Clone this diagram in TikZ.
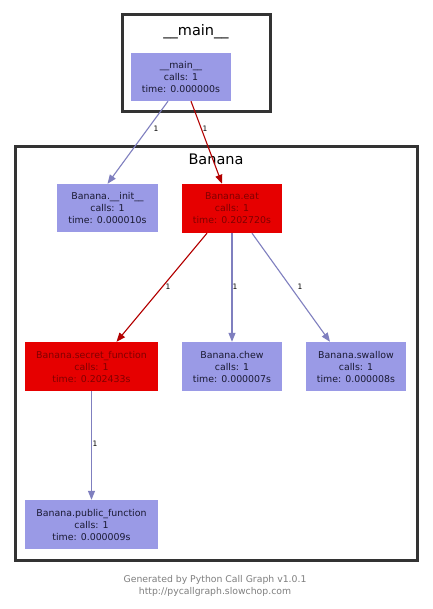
\documentclass[tikz,border=0pt]{standalone}
\usepackage{fontspec}
\setmainfont{DejaVu Sans}
\usetikzlibrary{arrows.meta}
\definecolor{nodeblue}{HTML}{9A9AE6}
\definecolor{nodered}{HTML}{E60000}
\definecolor{txtblue}{HTML}{1A1A33}
\definecolor{txtred}{HTML}{800000}
\definecolor{edgeblue}{HTML}{7F7FBF}
\definecolor{edgered}{HTML}{B30000}
\definecolor{clusterline}{HTML}{333333}
\definecolor{footgray}{HTML}{7F7F7F}
\begin{document}
\begin{tikzpicture}[x=1pt,y=-1pt,
  fn/.style={rectangle, inner sep=0pt, align=center, font=\fontsize{9.4}{12}\selectfont},
  bluefn/.style={fn, fill=nodeblue, text=txtblue},
  redfn/.style={fn, fill=nodered, text=txtred},
  cluster/.style={draw=clusterline, line width=3pt, fill=none},
  ctitle/.style={font=\fontsize{14.5}{16}\selectfont, text=black},
  bedge/.style={draw=edgeblue, line width=1.1pt, -{Triangle[length=9pt,width=7pt]}},
  redge/.style={draw=edgered, line width=1.1pt, -{Triangle[length=9pt,width=7pt]}},
  elabel/.style={font=\fontsize{7.5}{8}\selectfont, text=black, inner sep=1pt},
  foot/.style={font=\fontsize{9.3}{12}\selectfont, text=footgray, align=center}
]
\useasboundingbox (0,0) rectangle (432,609);
\fill[white] (0,0) rectangle (432,609);

% clusters
\draw[cluster] (122,15) rectangle (270,112);
\node[ctitle] (maintitle) at (196,32) {\_\_main\_\_};
\draw[cluster] (15,147) rectangle (417,560);
\node[ctitle] (bananatitle) at (216,159) {Banana};

% nodes
\node[bluefn, minimum width=100pt, minimum height=48pt] (main) at (181,77) {\_\_main\_\_\\calls: 1\\time: 0.000000s};
\node[bluefn, minimum width=101pt, minimum height=48pt] (init) at (107.5,208) {Banana.\_\_init\_\_\\calls: 1\\time: 0.000010s};
\node[redfn, minimum width=100pt, minimum height=49pt] (eat) at (232,208.5) {Banana.eat\\calls: 1\\time: 0.202720s};
\node[redfn, minimum width=133pt, minimum height=49pt] (secret) at (91.5,366.5) {Banana.secret\_function\\calls: 1\\time: 0.202433s};
\node[bluefn, minimum width=100pt, minimum height=49pt] (chew) at (232,366.5) {Banana.chew\\calls: 1\\time: 0.000007s};
\node[bluefn, minimum width=100pt, minimum height=49pt] (swallow) at (356,366.5) {Banana.swallow\\calls: 1\\time: 0.000008s};
\node[bluefn, minimum width=133pt, minimum height=49pt] (public) at (91.5,524.5) {Banana.public\_function\\calls: 1\\time: 0.000009s};

% edges
\draw[bedge] ([xshift=-13pt]main.south) -- (init.north);
\node[elabel] (l1) at (156,129) {1};
\draw[redge] ([xshift=10pt]main.south) -- ([xshift=-10pt]eat.north);
\node[elabel] (l2) at (205,129) {1};
\draw[redge] ([xshift=-25pt]eat.south) -- ([xshift=25pt]secret.north);
\node[elabel] (l3) at (168,287) {1};
\draw[bedge] (eat.south) -- (chew.north);
\node[elabel] (l4) at (235,287) {1};
\draw[bedge] ([xshift=20pt]eat.south) -- ([xshift=-26pt]swallow.north);
\node[elabel] (l5) at (300,287) {1};
\draw[bedge] (secret.south) -- (public.north);
\node[elabel] (l6) at (95,444) {1};

% footer
\node[foot] (footer) at (215,586) {Generated by Python Call Graph v1.0.1\\http://pycallgraph.slowchop.com};
\end{tikzpicture}
\end{document}
